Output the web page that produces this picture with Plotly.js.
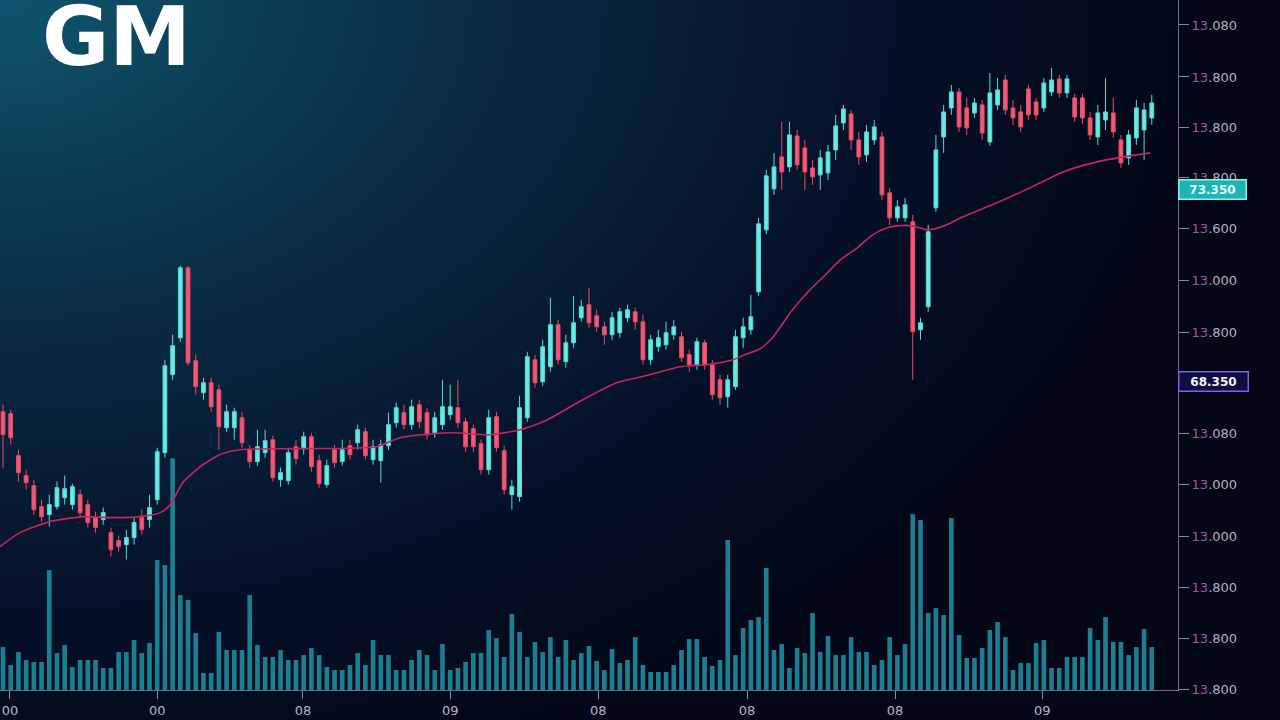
<!DOCTYPE html>
<html>
<head>
<meta charset="utf-8">
<script src="https://cdn.plot.ly/plotly-3.0.1.min.js"></script>
<style>
  html, body { margin: 0; padding: 0; width: 1280px; height: 720px; overflow: hidden; }
  body { background: radial-gradient(ellipse 95% 115% at 0% 0%, #0f566e 0%, #0b3c54 22%, #08243c 48%, #051129 72%, #030716 100%); }
  #chart { width: 1280px; height: 720px; }
</style>
</head>
<body>
<div id="chart"></div>
<script>
// ---- data ----
const openP = [58.8,58.6,54.4,52.4,51.4,49.3,48.5,49.3,50.2,49.5,50.5,49.5,48.2,48.0,46.7,45.9,45.5,46.2,48.2,48.0,
  50.0,54.7,62.5,66.2,73.2,63.9,60.7,61.7,61.0,57.2,57.2,58.2,55.0,53.8,54.7,56.0,52.0,51.9,55.3,55.1,
  56.3,53.9,51.5,55.0,53.8,55.4,55.7,56.8,54.0,53.9,55.4,57.7,58.7,57.5,59.5,58.7,56.7,57.5,58.5,59.2,
  57.8,57.1,55.6,53.0,58.3,54.9,50.5,50.3,58.2,64.0,61.8,63.3,67.5,63.8,65.7,68.2,69.5,68.4,67.3,66.5,
  66.7,68.2,68.8,67.8,64.0,65.3,65.5,66.5,66.3,64.5,63.5,65.7,63.5,62.0,60.3,61.3,66.2,67.0,70.8,77.0,
  81.1,84.3,83.3,86.4,85.2,83.2,82.5,82.7,85.0,87.7,88.6,86.0,84.5,86.0,86.3,80.7,78.2,78.2,77.8,67.0,
  69.3,79.2,86.3,89.2,90.8,89.2,88.7,89.5,85.8,89.5,92.0,89.2,88.8,91.1,89.8,89.2,90.8,92.1,90.7,90.2,
  90.2,88.2,86.3,88.0,88.7,86.0,84.2,86.2,87.0,88.2];
const highP = [59.5,59.0,55.0,53.0,52.0,50.0,50.5,51.8,52.4,51.6,51.0,50.0,48.8,49.2,47.2,46.4,47.0,48.2,49.0,50.5,
  55.2,64.0,66.5,73.4,73.4,64.5,62.2,62.2,61.5,59.5,59.2,58.8,55.5,57.0,57.0,56.4,53.2,55.2,56.0,56.8,
  56.7,54.5,54.0,55.5,56.0,56.0,57.5,57.2,56.0,56.0,58.7,59.7,59.5,60.0,60.0,59.2,58.8,62.0,61.5,62.0,
  58.2,57.5,56.0,59.0,58.8,55.4,52.0,60.4,64.8,64.5,66.0,70.2,68.0,66.5,70.4,70.0,71.2,69.0,67.8,68.8,
  69.2,69.5,69.2,68.5,66.5,67.0,67.8,68.0,66.8,65.0,66.2,66.0,64.0,62.5,62.5,67.0,68.2,70.5,78.2,83.0,
  84.7,87.8,87.8,87.0,86.0,84.0,85.0,85.5,88.5,89.5,89.0,86.8,87.5,88.0,86.8,81.2,80.0,80.2,78.5,68.2,
  77.5,86.5,89.5,91.5,91.2,90.2,90.2,90.0,92.7,92.2,92.5,90.0,89.5,91.5,90.2,92.2,93.2,92.5,92.5,90.6,
  90.6,88.8,89.5,92.2,90.2,86.5,87.0,90.0,89.7,90.5];
const lowP = [53.2,55.5,51.8,51.0,48.5,47.8,47.3,49.0,49.5,49.0,48.2,47.2,46.7,47.5,44.3,44.8,44.0,45.5,46.5,47.2,
  49.5,54.2,62.0,65.8,63.4,60.5,60.0,58.8,55.0,56.8,56.0,55.2,53.2,53.4,54.2,51.8,51.3,51.5,53.5,54.5,
  52.8,51.2,51.2,53.2,53.4,54.0,55.0,54.0,53.5,51.7,55.0,57.2,57.0,57.0,57.2,56.0,56.2,57.0,58.0,57.2,
  54.8,54.8,52.5,52.5,54.8,50.5,49.0,49.8,57.8,61.2,61.4,62.8,63.5,63.2,65.2,67.8,67.2,66.8,65.5,66.0,
  66.2,67.8,67.0,63.5,63.5,64.8,65.0,66.0,63.8,62.8,63.0,63.0,60.0,59.5,59.2,61.0,65.2,66.5,70.4,76.6,
  80.5,81.0,82.8,83.0,81.0,81.5,81.0,82.0,84.0,87.0,85.0,83.5,83.8,85.5,80.0,77.5,77.8,77.8,62.0,66.0,
  68.8,78.8,84.7,88.5,86.8,86.5,88.2,86.0,85.4,89.0,88.5,87.5,86.8,88.0,88.0,88.8,90.4,90.2,90.2,87.8,
  87.6,86.0,85.5,87.0,86.2,83.2,83.5,85.5,84.0,87.5];
const closeP = [56.5,56.2,52.7,51.7,49.0,48.3,49.5,51.2,51.1,51.3,48.7,47.7,47.2,48.7,45.0,45.3,46.2,47.7,47.0,49.2,
  54.8,63.4,65.4,73.2,63.7,61.3,61.7,59.3,57.3,58.8,58.8,55.7,53.8,55.3,55.9,52.2,52.7,54.7,54.1,56.3,
  53.3,51.6,53.4,53.7,55.0,54.5,57.0,54.4,55.3,55.5,57.5,59.2,57.5,59.3,57.8,56.5,58.2,59.3,59.3,57.7,
  55.3,55.3,53.0,58.2,55.2,51.0,51.3,59.2,64.3,61.7,65.3,67.5,64.0,65.7,67.7,69.3,67.7,67.3,66.5,68.2,
  68.8,69.0,67.8,64.0,66.0,66.2,66.7,67.3,64.2,63.5,65.8,63.5,60.5,60.2,62.0,66.3,67.3,68.3,77.6,82.4,
  83.3,82.8,86.5,83.5,82.8,82.3,84.2,84.8,87.4,89.1,86.0,84.3,86.8,87.3,80.5,78.2,79.3,79.5,66.8,67.7,
  76.8,85.0,88.8,90.8,87.3,87.2,89.7,86.7,90.7,91.0,89.0,88.2,87.3,88.5,88.5,91.7,92.0,90.7,92.1,88.3,
  88.2,86.5,88.7,88.8,86.8,83.7,86.5,89.2,89.0,89.7];
const volume = [4.3,2.5,3.8,3.0,2.8,2.8,12.0,3.7,4.5,2.3,3.0,3.0,3.0,2.2,2.2,3.8,3.8,5.0,3.7,4.7,
  13.0,12.5,23.2,9.5,9.0,5.7,1.7,1.7,5.8,4.0,4.0,4.0,9.5,4.5,3.3,3.3,4.0,3.0,3.0,3.5,
  4.2,3.5,2.3,2.0,2.0,2.5,3.7,2.5,5.0,3.5,3.5,2.0,2.0,3.0,4.0,3.5,2.0,4.6,2.0,2.2,
  2.8,3.7,3.7,6.0,5.2,3.3,7.6,5.8,3.3,4.8,3.8,5.3,3.3,5.0,3.0,3.7,4.4,2.9,2.0,4.1,
  2.7,3.0,5.3,2.5,1.8,1.8,1.8,2.5,4.0,5.1,5.1,3.3,2.4,3.0,15.0,3.5,6.2,7.0,7.3,12.2,
  4.0,4.6,2.2,4.2,3.7,7.7,3.8,5.4,3.5,3.5,5.3,3.8,3.8,2.5,3.0,5.3,3.5,4.6,17.6,17.0,
  7.7,8.2,7.5,17.2,5.5,3.2,3.2,4.2,6.0,6.8,5.3,2.0,2.7,2.7,4.7,5.0,2.2,2.2,3.3,3.3,
  3.3,6.2,5.0,7.3,4.8,4.8,3.5,4.3,6.1,4.3];
const maX = [-0.39,2.2,6.1,10.4,13.9,17.8,20.4,21.7,23.3,25.6,28.1,30.7,38.5,48.5,51.5,58.0,63.2,67.1,70.6,75.2,
  79.6,83.9,87.8,91.3,94.7,96.2,98.2,99.9,102.1,104.3,106.4,108.6,110.8,112.8,114.7,116.0,117.9,119.8,120.9,122.4,
  124.5,128.9,133.2,137.5,141.9,144.6,148.8];
const maY = [45.3,46.7,47.8,48.3,48.2,48.3,48.7,49.5,51.7,53.3,54.5,55.0,55.1,55.3,56.2,56.7,56.5,57.0,58.0,60.0,
  61.7,62.5,63.3,63.5,64.0,64.5,65.1,66.3,68.7,70.7,72.3,74.0,75.2,76.5,77.2,77.4,77.4,77.0,77.1,77.5,
  78.3,79.7,81.2,82.8,83.8,84.2,84.7];
const yTickVals = [97.5,92.3,87.2,82.2,77.1,71.9,66.7,56.6,51.5,46.3,41.2,36.1,31.0];
const yTickText = ["13.080","13.800","13.800","13.800","13.600","13.000","13.800","13.080","13.000","13.000","13.800","13.800","13.800"];
const xTickVals = [0.9,20,38.9,58,77.2,96.5,115.7,134.8];
const xTickText = ["00","00","08","09","08","08","08","09"];
const priceTags = [{label: "73.350", value: 81.0}, {label: "68.350", value: 61.8}];
const title = "GM";

const idx = openP.map((_, i) => i);
const styledY = yTickText.map(t => {
  const p = t.split(".");
  return '<span style="fill:#a35a9e">' + p[0] + '</span>.' + p[1];
});

const traces = [
  {
    type: "bar", x: idx, y: volume, yaxis: "y", xaxis: "x",
    marker: {color: "rgba(30,140,158,0.9)", line: {width: 0}},
    width: 0.6, hoverinfo: "skip"
  },
  {
    type: "candlestick", x: idx, open: openP, high: highP, low: lowP, close: closeP,
    yaxis: "y2", xaxis: "x", whiskerwidth: 0,
    increasing: {line: {color: "#58dcd6", width: 1}, fillcolor: "#66ece6"},
    decreasing: {line: {color: "#e84c68", width: 1}, fillcolor: "#f45a74"},
    hoverinfo: "skip"
  },
  {
    type: "scatter", mode: "lines", x: maX, y: maY, yaxis: "y2", xaxis: "x",
    line: {color: "#c8245e", width: 1.6, shape: "spline", smoothing: 0.6},
    hoverinfo: "skip"
  }
];

const layout = {
  width: 1280, height: 720,
  margin: {l: 0, r: 102, t: 0, b: 30},
  paper_bgcolor: "rgba(0,0,0,0)", plot_bgcolor: "rgba(0,0,0,0)",
  showlegend: false,
  font: {family: "DejaVu Sans", color: "#a8a8bc", size: 13},
  xaxis: {
    range: [-0.39, 152.4], showgrid: false, zeroline: false,
    showline: true, linecolor: "#6c6c82", linewidth: 1,
    ticks: "outside", ticklen: 8, tickcolor: "#8a8aa0",
    tickvals: xTickVals, ticktext: xTickText,
    tickfont: {family: "DejaVu Sans", size: 13, color: "#b4b4c6"},
    rangeslider: {visible: false}, fixedrange: true
  },
  yaxis: {
    range: [0, 69.05], visible: false, showgrid: false, zeroline: false, fixedrange: true
  },
  yaxis2: {
    overlaying: "y", side: "right", range: [30.95, 100],
    showgrid: false, zeroline: false,
    showline: true, linecolor: "#6c6c82", linewidth: 1,
    ticks: "outside", ticklen: 10, tickcolor: "#8a8aa0",
    tickvals: yTickVals, ticktext: styledY,
    tickfont: {family: "DejaVu Sans", size: 13, color: "#b0b0c2"},
    fixedrange: true
  },
  annotations: [
    {
      text: title, xref: "paper", yref: "paper", x: 40 / 1178, y: 1 - 37 / 690,
      xanchor: "left", yanchor: "middle", showarrow: false,
      font: {family: "DejaVu Sans", size: 82, color: "#ffffff", weight: 800}
    },
    {
      text: priceTags[0].label, xref: "paper", yref: "y2", x: 1, y: priceTags[0].value,
      xanchor: "left", yanchor: "middle", showarrow: false,
      bgcolor: "#1fb3b3", bordercolor: "#86f4ee", borderwidth: 1.5, borderpad: 2, width: 62,
      font: {family: "DejaVu Sans", size: 12, color: "#eaffff", weight: "bold"}
    },
    {
      text: priceTags[1].label, xref: "paper", yref: "y2", x: 1, y: priceTags[1].value,
      xanchor: "left", yanchor: "middle", showarrow: false,
      bgcolor: "#0d0d3e", bordercolor: "#7466e6", borderwidth: 1.5, borderpad: 2, width: 64,
      font: {family: "DejaVu Sans", size: 12, color: "#f2f2ff", weight: "bold"}
    }
  ]
};

Plotly.newPlot("chart", traces, layout, {staticPlot: true, displayModeBar: false});
</script>
</body>
</html>
